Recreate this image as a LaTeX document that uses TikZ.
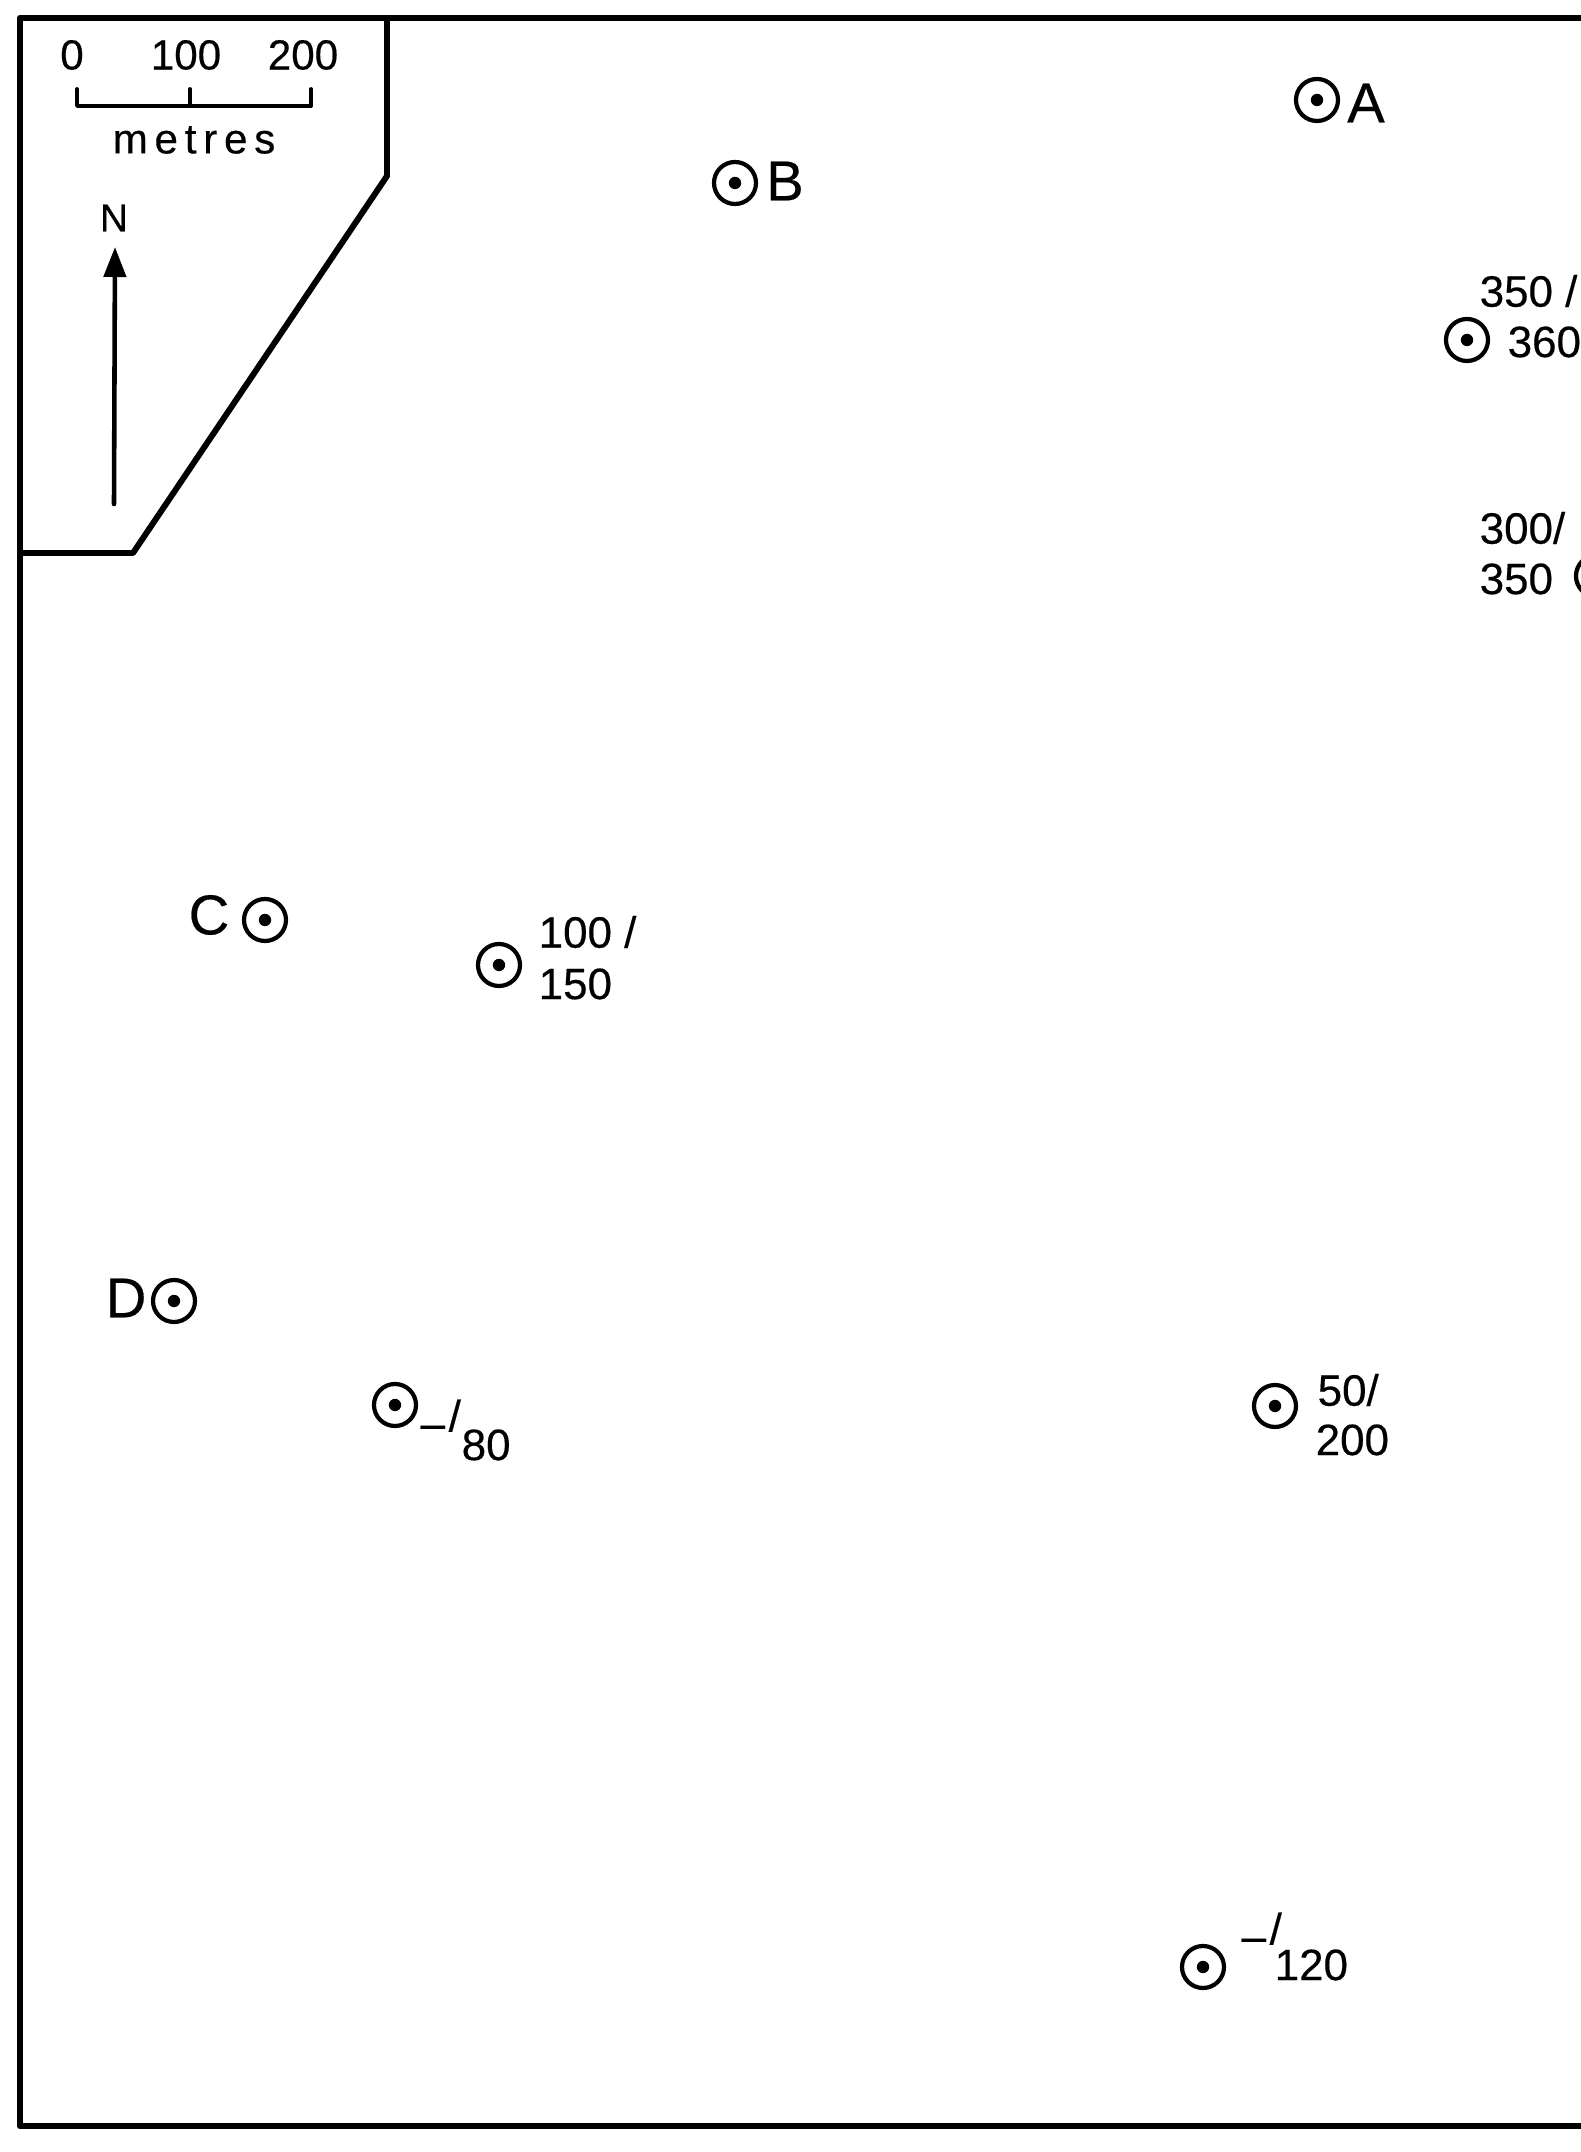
\documentclass[tikz,border=0pt]{standalone}
\usepackage{fontspec}
\setmainfont{Liberation Sans}[FakeBold=0.4,AutoFakeBold=0.4]
\usetikzlibrary{arrows.meta}

\tikzset{
    site/.style={circle, draw=black, line width=1.2pt, minimum size=4.2mm, inner sep=0pt,
        path picture={\fill[black] (path picture bounding box.center) circle (0.62mm);}},
    letter/.style={font=\fontsize{16}{16}\selectfont\bfseries, inner sep=0pt},
    reading/.style={font=\fontsize{12.5}{12.5}\selectfont\bfseries, inner sep=0pt, anchor=west},
    scalenum/.style={font=\fontsize{12}{12}\selectfont\bfseries, inner sep=0pt}
}

\begin{document}
\begin{tikzpicture}
            \useasboundingbox (0,0) rectangle (15.81,21.52);
            \clip (0,0) rectangle (15.81,21.52);

            % Draw the frame and the inset
            \draw[black, line width=1.9pt, line join=round] (16.2,21.34) -- (0.2,21.34) -- (0.2,0.26) -- (16.2,0.26);
            \draw[black, line width=1.7pt, line join=round] (3.87,21.34) -- (3.87,19.76) -- (1.33,15.99) -- (0.2,15.99);

            % Draw the scale
            \node[scalenum] (zero) at (0.72,20.97) {0};
            \node[scalenum] (hundred) at (1.86,20.97) {100};
            \node[scalenum] (twohundred) at (3.03,20.97) {200};
            \coordinate (barleft) at (0.77,20.46);
            \coordinate (barmid) at (1.90,20.46);
            \coordinate (barright) at (3.11,20.46);
            \draw[black, line width=1.1pt, line join=round, line cap=round] (0.77,20.63) -- (barleft) -- (barright) -- (3.11,20.63);
            \draw[black, line width=1.1pt, line cap=round] (barmid) -- (1.90,20.63);
            \node[scalenum] (metres) at (1.94,20.12) {\addfontfeature{LetterSpace=16}metres};

            % Draw the north arrow
            \node[font=\fontsize{11}{11}\selectfont\bfseries, inner sep=0pt] (north) at (1.14,19.34) {N};
            \coordinate (tail) at (1.14,16.48);
            \coordinate (head) at (1.15,19.05);
            \draw[-{Triangle[length=3mm, width=2.2mm]}, black, line width=1.3pt, line cap=round] (tail) -- (head);

            % Draw the named sites
            \node[site] (siteA) at (13.17,20.52) {};
            \node[letter] (labelA) at (13.66,20.49) {A};
            \node[site] (siteB) at (7.35,19.69) {};
            \node[letter] (labelB) at (7.85,19.71) {B};
            \node[site] (siteC) at (2.65,12.32) {};
            \node[letter] (labelC) at (2.09,12.37) {C};
            \node[site] (siteD) at (1.74,8.51) {};
            \node[letter] (labelD) at (1.26,8.54) {D};

            % Draw the sites with readings
            \node[site] (siteE) at (14.67,18.12) {};
            \node[reading] (topE) at (14.79,18.61) {350 /};
            \node[reading] (botE) at (15.07,18.10) {360};
            \node[site] (siteF) at (15.97,15.76) {};
            \node[reading] (topF) at (14.79,16.24) {300/};
            \node[reading] (botF) at (14.79,15.73) {350};
            \node[site] (siteG) at (4.99,11.87) {};
            \node[reading] (topG) at (5.38,12.20) {100 /};
            \node[reading] (botG) at (5.38,11.68) {150};
            \node[site] (siteH) at (12.75,7.46) {};
            \node[reading] (topH) at (13.17,7.62) {50/};
            \node[reading] (botH) at (13.15,7.12) {200};
            \node[site] (siteI) at (3.95,7.47) {};
            \node[reading] (topI) at (4.20,7.33) {\raisebox{-1pt}{--}\kern 1pt\raisebox{1pt}{/}};
            \node[reading] (botI) at (4.61,7.07) {80};
            \node[site] (siteJ) at (12.03,1.85) {};
            \node[reading] (topJ) at (12.41,2.20) {\raisebox{-1pt}{--}\kern 1pt\raisebox{1pt}{/}};
            \node[reading] (botJ) at (12.74,1.87) {120};

        \end{tikzpicture}
\end{document}
